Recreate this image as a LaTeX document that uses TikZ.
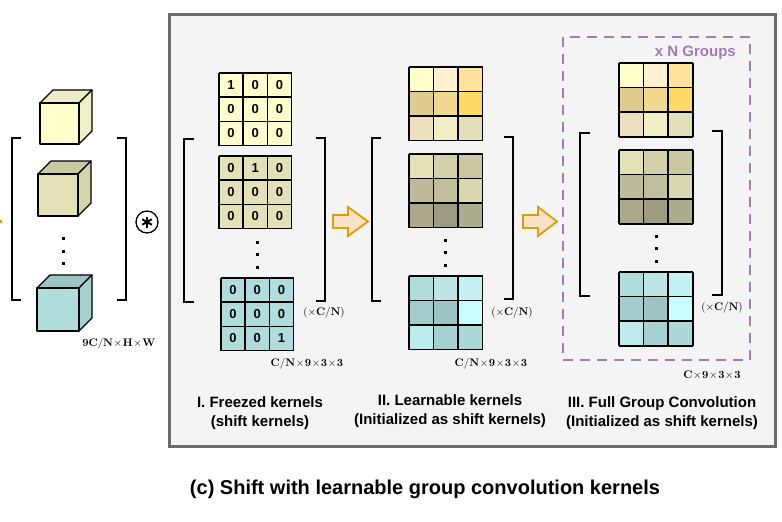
\documentclass[tikz,border=0pt]{standalone}
\usepackage[no-math]{fontspec}
\setmainfont{Liberation Sans}
\usetikzlibrary{calc}
\definecolor{boxgray}{HTML}{F4F4F4}
\definecolor{boxedge}{HTML}{6B6B6B}
\definecolor{grpurple}{HTML}{A07DB4}
\definecolor{arrfill}{HTML}{FDE2CA}
\definecolor{arredge}{HTML}{DD9F00}
% yellow kernel
\definecolor{ya}{HTML}{FFFFCC}\definecolor{yb}{HTML}{FFF0D2}\definecolor{yc}{HTML}{FFE39A}
\definecolor{yd}{HTML}{E0CB8E}\definecolor{ye}{HTML}{F0D890}\definecolor{yf}{HTML}{FFD966}
\definecolor{yg}{HTML}{ECE0C0}\definecolor{yh}{HTML}{F1F0C4}\definecolor{yi}{HTML}{E2E0B8}
% olive kernel
\definecolor{oa}{HTML}{E3E1B6}\definecolor{ob}{HTML}{D2D1A9}\definecolor{oc}{HTML}{C9C8A1}
\definecolor{od}{HTML}{BDBB99}\definecolor{oe}{HTML}{C0BF9C}\definecolor{of}{HTML}{D8D7B0}
\definecolor{og}{HTML}{ABA989}\definecolor{oh}{HTML}{9E9C7E}\definecolor{oi}{HTML}{ADAC8C}
% cyan kernel
\definecolor{ca}{HTML}{B1DCDC}\definecolor{cb}{HTML}{BCE6E6}\definecolor{cc}{HTML}{C4F2F2}
\definecolor{cd}{HTML}{A2CCCC}\definecolor{ce}{HTML}{9DC5C5}\definecolor{cf}{HTML}{C8FEFE}
\definecolor{cg}{HTML}{BDEAEA}\definecolor{ch}{HTML}{A5D1D1}\definecolor{ci}{HTML}{ADD8D8}
% cubes
\definecolor{cubeYf}{HTML}{FFFFCC}\definecolor{cubeYt}{HTML}{EEEDC6}\definecolor{cubeYs}{HTML}{F1F0C6}
\definecolor{cubeOf}{HTML}{E3E1B8}\definecolor{cubeOt}{HTML}{CBC9A2}\definecolor{cubeOs}{HTML}{D6D4AE}
\definecolor{cubeCf}{HTML}{B1DCDC}\definecolor{cubeCt}{HTML}{9CC6C6}\definecolor{cubeCs}{HTML}{A6D0D0}
\tikzset{
  gline/.style={line width=1.6pt, black},
  brk/.style={line width=1.8pt, black, line cap=rect},
  dimlbl/.style={font=\fontsize{10.5}{11}\selectfont, inner sep=0},
  digit/.style={font=\bfseries\fontsize{13}{13}\selectfont, inner sep=0},
  caption/.style={font=\bfseries\fontsize{15}{19}\selectfont, align=center, inner sep=0},
  fatarrow/.style={fill=arrfill, draw=arredge, line width=1.8pt, line join=miter},
  dotn/.style={rectangle, fill=black, inner sep=0, minimum size=3pt},
}
% grid: #1 x, #2 y (top-left), #3 cell size, #4 nine colors
\newcommand{\kgrid}[4]{%
  \foreach \cc [count=\ii from 0] in {#4} {%
    \pgfmathtruncatemacro\rr{\ii/3}%
    \pgfmathtruncatemacro\qq{mod(\ii,3)}%
    \fill[\cc] ({#1+\qq*#3},{#2+\rr*#3}) rectangle ++(#3,#3);
  }%
  \foreach \kk in {0,1,2,3} {%
    \draw[gline] ({#1+\kk*#3},#2) -- ({#1+\kk*#3},{#2+3*#3});
    \draw[gline] (#1,{#2+\kk*#3}) -- ({#1+3*#3},{#2+\kk*#3});
  }%
}
% cube: #1 x, #2 y top-left of front, #3 w, #4 h, #5 d, #6 front, #7 top, #8 side
\newcommand{\kcube}[8]{%
  \filldraw[#7, draw=black, line width=1.3pt, line join=round] (#1,#2) -- ++(#5,-#5) -- ++(#3,0) -- ++(-#5,#5) -- cycle;
  \filldraw[#8, draw=black, line width=1.3pt, line join=round] ({#1+#3},#2) -- ++(#5,-#5) -- ++(0,#4) -- ++(-#5,#5) -- cycle;
  \filldraw[#6, draw=black, line width=1.3pt, line join=round] (#1,#2) rectangle ++(#3,#4);
}
% left bracket: #1 x, #2 top, #3 bottom, #4 tick
\newcommand{\lbrk}[4]{\draw[brk] ({#1+#4},#2) -- (#1,#2) -- (#1,#3) -- ({#1+#4},#3);}
\newcommand{\rbrk}[4]{\draw[brk] ({#1-#4},#2) -- (#1,#2) -- (#1,#3) -- ({#1-#4},#3);}
\begin{document}
\begin{tikzpicture}[x=1pt,y=-1pt]
\useasboundingbox (0,0) rectangle (782,522);
% gray panel
\node[draw=boxedge, fill=boxgray, line width=2.6pt, minimum width=606pt, minimum height=432pt, inner sep=0, anchor=north west] (panel) at (168,13) {};

% left fragment
\fill[arredge] (0,219.5) rectangle (2,223);

% cubes
\kcube{40}{103}{39}{41}{13}{cubeYf}{cubeYt}{cubeYs}
\kcube{38}{174}{40}{42}{13}{cubeOf}{cubeOt}{cubeOs}
\kcube{37}{288}{42}{43}{13}{cubeCf}{cubeCt}{cubeCs}
\node[dotn] (cd1) at (63,238) {};
\node[dotn] (cd2) at (63,251) {};
\node[dotn] (cd3) at (63,263) {};
\lbrk{12}{138}{300}{8}
\rbrk{126}{138}{300}{8}
\node[circle, draw=black, line width=1.3pt, minimum size=22pt, inner sep=0] (conv) at (147,222) {};
\foreach \aa in {90,30,150} {
  \draw[line width=2pt] ($(conv.center)+(\aa:5.5pt)$) -- ($(conv.center)+(\aa+180:5.5pt)$);
}

\node[dimlbl] (dimA) at (119,344) {$\mathbf{9C/N}\!\times\!\mathbf{H}\!\times\!\mathbf{W}$};

% ---- I. Freezed kernels
\kgrid{219}{73}{24.2}{ya,ya,ya,ya,ya,ya,ya,ya,ya}
\kgrid{219}{156}{24.2}{oa,oa,oa,oa,oa,oa,oa,oa,oa}
\kgrid{221}{278}{24.2}{ca,ca,ca,ca,ca,ca,ca,ca,ca}
\foreach \dd [count=\ii from 0] in {1,0,0,0,0,0,0,0,0} {
  \pgfmathtruncatemacro\rr{\ii/3}\pgfmathtruncatemacro\qq{mod(\ii,3)}
  \node[digit] (fa\ii) at ({219+12.1+\qq*24.2},{73+12.1+\rr*24.2}) {\dd};
}
\foreach \dd [count=\ii from 0] in {0,1,0,0,0,0,0,0,0} {
  \pgfmathtruncatemacro\rr{\ii/3}\pgfmathtruncatemacro\qq{mod(\ii,3)}
  \node[digit] (fb\ii) at ({219+12.1+\qq*24.2},{156+12.1+\rr*24.2}) {\dd};
}
\foreach \dd [count=\ii from 0] in {0,0,0,0,0,0,0,0,1} {
  \pgfmathtruncatemacro\rr{\ii/3}\pgfmathtruncatemacro\qq{mod(\ii,3)}
  \node[digit] (fc\ii) at ({221+12.1+\qq*24.2},{278+12.1+\rr*24.2}) {\dd};
}
\node[dotn] (fd1) at (257,242) {};
\node[dotn] (fd2) at (257,254) {};
\node[dotn] (fd3) at (257,267) {};
\lbrk{184}{139}{302}{9}
\rbrk{325}{138}{301}{8}
\node[dimlbl] (xcn1) at (324,313) {$(\times\mathbf{C/N})$};
\node[dimlbl] (dim1) at (307,364) {$\mathbf{C/N}\!\times\!\mathbf{9}\!\times\!\mathbf{3}\!\times\!\mathbf{3}$};

% arrow 1
\draw[fatarrow] (333,215) -- (348,215) -- (348,207) -- (368,221.5) -- (348,236) -- (348,228) -- (333,228) -- cycle;

% ---- II. Learnable kernels
\kgrid{409}{67}{24.5}{ya,yb,yc,yd,ye,yf,yg,yh,yi}
\kgrid{409}{154}{24.5}{oa,ob,oc,od,oe,of,og,oh,oi}
\kgrid{409}{276}{24.5}{ca,cb,cc,cd,ce,cf,cg,ch,ci}
\node[dotn] (ld1) at (445,240) {};
\node[dotn] (ld2) at (445,252) {};
\node[dotn] (ld3) at (445,265) {};
\lbrk{372}{138}{301}{8}
\rbrk{513}{137}{299}{8}
\node[dimlbl] (xcn2) at (512,313) {$(\times\mathbf{C/N})$};
\node[dimlbl] (dim2) at (491,364) {$\mathbf{C/N}\!\times\!\mathbf{9}\!\times\!\mathbf{3}\!\times\!\mathbf{3}$};

% arrow 2
\draw[fatarrow] (523,215) -- (538,215) -- (538,207) -- (557,221.5) -- (538,236) -- (538,228) -- (523,228) -- cycle;

% ---- III. Full group convolution
\draw[grpurple, line width=2.6pt, dash pattern=on 10pt off 7pt] (563,37) rectangle (750,360);
\node[font=\bfseries\fontsize{15}{16}\selectfont, text=grpurple, inner sep=0, anchor=east] (ngroups) at (736,53) {x N Groups};
\kgrid{619}{63}{24.6}{ya,yb,yc,yd,ye,yf,yg,yh,yi}
\kgrid{619}{150}{24.6}{oa,ob,oc,od,oe,of,og,oh,oi}
\kgrid{619}{272}{24.6}{ca,cb,cc,cd,ce,cf,cg,ch,ci}
\node[dotn] (gd1) at (656,236) {};
\node[dotn] (gd2) at (656,248) {};
\node[dotn] (gd3) at (656,261) {};
\lbrk{580}{133}{296}{9}
\rbrk{722}{131}{295}{9}
\node[dimlbl] (xcn3) at (722,308) {$(\times\mathbf{C/N})$};
\node[dimlbl] (dim3) at (712,375) {$\mathbf{C}\!\times\!\mathbf{9}\!\times\!\mathbf{3}\!\times\!\mathbf{3}$};

% captions
\node[caption] (capI) at (260,413) {I. Freezed kernels\\(shift kernels)};
\node[caption] (capII) at (450,411) {II. Learnable kernels\\(Initialized as shift kernels)};
\node[caption] (capIII) at (662,413) {III. Full Group Convolution\\(Initialized as shift kernels)};
\node[font=\bfseries\fontsize{20}{22}\selectfont, inner sep=0] (title) at (425,489) {(c) Shift with learnable group convolution kernels};
\end{tikzpicture}
\end{document}
